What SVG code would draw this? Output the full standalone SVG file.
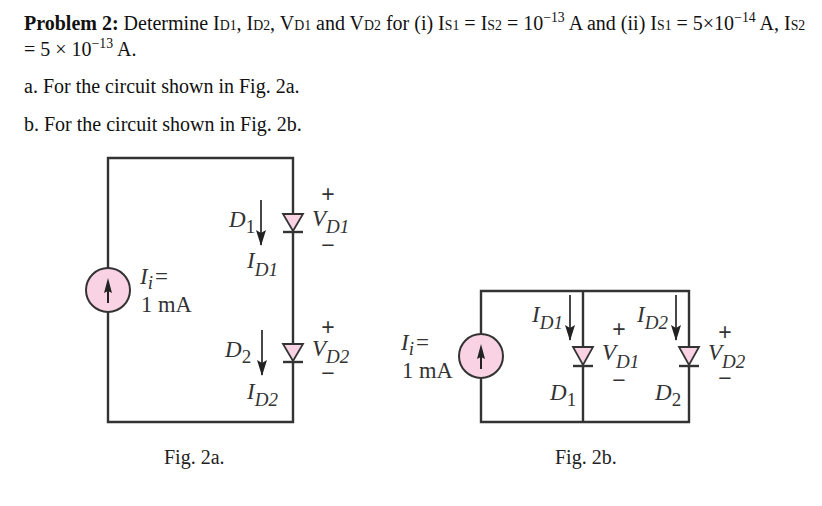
<svg xmlns="http://www.w3.org/2000/svg" width="822" height="506" viewBox="0 0 822 506">
<style>
text{font-family:"Liberation Serif","Times New Roman",serif;fill:#111}
.t{font-size:20px}
.s{font-size:13.8px}
.fig{font-size:20px;fill:#222}
.lab{font-size:23px;fill:#333}
.val{font-size:22.5px;fill:#333}
.i{font-style:italic}
.sub{font-size:19px}
.w{fill:none;stroke:#333;stroke-width:2.4}
.d{fill:#f9d3e4;stroke:#333;stroke-width:1.8}
.src{fill:#f9d3e4;stroke:#333;stroke-width:2}
.pm{font-size:23px;fill:#333;font-family:"Liberation Sans",sans-serif}
.a{stroke:#333;stroke-width:1.8;fill:none}
</style>
<defs>
<marker id="ad" markerUnits="userSpaceOnUse" markerWidth="16" markerHeight="10" refX="15" refY="5" orient="auto" viewBox="0 0 16 10"><path d="M0 0L16 5L0 10L3 5Z" fill="#222"/></marker>
</defs>

<g id="problem-text">
<text class="t" x="24" y="30"><tspan font-weight="bold">Problem 2:</tspan> Determine I<tspan class="s">D1</tspan>, I<tspan class="s">D2</tspan>, V<tspan class="s">D1</tspan> and V<tspan class="s">D2</tspan> for (i) I<tspan class="s">S1</tspan> = I<tspan class="s">S2</tspan> = 10<tspan class="s" dy="-8">−13</tspan><tspan dy="8"> A and (ii) I</tspan><tspan class="s">S1</tspan> = 5×10<tspan class="s" dy="-8">−14</tspan><tspan dy="8"> A, I</tspan><tspan class="s">S2</tspan></text>
<text class="t" x="24" y="56">= 5 × 10<tspan class="s" dy="-8">−13</tspan><tspan dy="8"> A.</tspan></text>
<text class="t" x="24" y="93">a. For the circuit shown in Fig. 2a.</text>
<text class="t" x="24" y="131">b. For the circuit shown in Fig. 2b.</text>
</g>

<g id="connectors">
<path class="w" d="M108 268V158H293V214M293 232V344M293 362V422H108V312"/>
<path class="w" d="M481 334V291H689V347M689 366V422H481V378M583 291V347M583 366V422"/>
<path class="a" marker-end="url(#ad)" d="M261 200V245"/>
<path class="a" marker-end="url(#ad)" d="M262 330V375"/>
<path class="a" marker-end="url(#ad)" d="M570 295V340"/>
<path class="a" marker-end="url(#ad)" d="M676 295V340"/>
</g>

<g id="fig2a-source">
<circle class="src" cx="108" cy="290" r="22"/>
<path d="M108 303V290" stroke="#222" stroke-width="2"/><path d="M108 278L112 293L108 291L104 293Z" fill="#222"/>
<text class="lab i" x="140" y="284">I<tspan class="sub" dy="5">i</tspan><tspan dx="2" dy="-5" font-style="normal">=</tspan></text>
<text class="val" x="141" y="312">1 mA</text>
</g>
<g id="fig2a-d1">
<path class="d" d="M283 214H303L293 231Z"/>
<path class="w" d="M283 232H303"/>
<text class="lab i" x="229" y="227">D<tspan class="sub" font-style="normal" dy="6">1</tspan></text>
<text class="lab i" x="247" y="268">I<tspan class="sub" dy="8">D1</tspan></text>
<text class="lab i" x="312" y="226">V<tspan class="sub" dy="7">D1</tspan></text>
<text class="pm" x="328" y="202" text-anchor="middle">+</text>
<text class="pm" x="328" y="253" text-anchor="middle">−</text>
</g>
<g id="fig2a-d2">
<path class="d" d="M283 344H303L293 361Z"/>
<path class="w" d="M283 362H303"/>
<text class="lab i" x="225" y="357">D<tspan class="sub" font-style="normal" dy="6">2</tspan></text>
<text class="lab i" x="247" y="399">I<tspan class="sub" dy="7">D2</tspan></text>
<text class="lab i" x="312" y="356">V<tspan class="sub" dy="7">D2</tspan></text>
<text class="pm" x="328" y="335" text-anchor="middle">+</text>
<text class="pm" x="328" y="381" text-anchor="middle">−</text>
</g>
<g id="fig2a-caption"><text class="fig" x="164" y="464">Fig. 2a.</text></g>

<g id="fig2b-source">
<circle class="src" cx="481" cy="356" r="22"/>
<path d="M481 369V356" stroke="#222" stroke-width="2"/><path d="M481 344L485 359L481 357L477 359Z" fill="#222"/>
<text class="lab i" x="401" y="350">I<tspan class="sub" dy="5">i</tspan><tspan dx="2" dy="-5" font-style="normal">=</tspan></text>
<text class="val" x="402" y="378">1 mA</text>
</g>
<g id="fig2b-d1">
<path class="d" d="M573 347H593L583 365Z"/>
<path class="w" d="M573 366H593"/>
<text class="lab i" x="532" y="322">I<tspan class="sub" dy="7">D1</tspan></text>
<text class="lab i" x="550" y="400">D<tspan class="sub" font-style="normal" dy="6">1</tspan></text>
<text class="lab i" x="602" y="360">V<tspan class="sub" dy="8">D1</tspan></text>
<text class="pm" x="619" y="337" text-anchor="middle">+</text>
<text class="pm" x="619" y="388" text-anchor="middle">−</text>
</g>
<g id="fig2b-d2">
<path class="d" d="M679 347H699L689 365Z"/>
<path class="w" d="M679 366H699"/>
<text class="lab i" x="637" y="322">I<tspan class="sub" dy="7">D2</tspan></text>
<text class="lab i" x="655" y="400">D<tspan class="sub" font-style="normal" dy="6">2</tspan></text>
<text class="lab i" x="708" y="360">V<tspan class="sub" dy="8">D2</tspan></text>
<text class="pm" x="725" y="340" text-anchor="middle">+</text>
<text class="pm" x="725" y="386" text-anchor="middle">−</text>
</g>
<g id="fig2b-caption"><text class="fig" x="555" y="464">Fig. 2b.</text></g>
</svg>
